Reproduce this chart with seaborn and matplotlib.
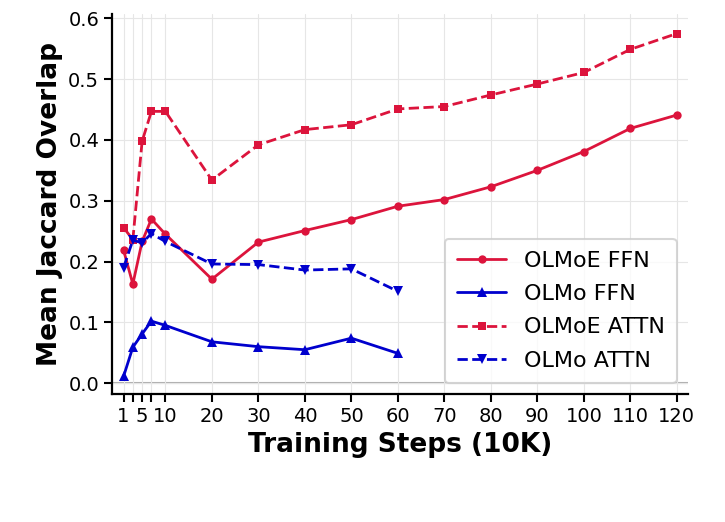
import numpy as np
import pandas as pd
import matplotlib
matplotlib.use("Agg")
import matplotlib.pyplot as plt
import seaborn as sns

# training steps (x 10K)
steps_long = [1, 3, 5, 7, 10, 20, 30, 40, 50, 60, 70, 80, 90, 100, 110, 120]
steps_short = [1, 3, 5, 7, 10, 20, 30, 40, 50, 60]

olmoe_ffn = [0.219, 0.163, 0.233, 0.270, 0.245, 0.171, 0.232, 0.251, 0.269,
             0.291, 0.302, 0.323, 0.350, 0.381, 0.419, 0.441]
olmoe_attn = [0.256, 0.236, 0.398, 0.447, 0.447, 0.334, 0.392, 0.417, 0.425,
              0.451, 0.455, 0.474, 0.492, 0.511, 0.549, 0.575]
olmo_ffn = [0.011, 0.059, 0.081, 0.102, 0.095, 0.068, 0.060, 0.055, 0.074, 0.049]
olmo_attn = [0.190, 0.235, 0.231, 0.246, 0.233, 0.196, 0.195, 0.186, 0.188, 0.151]

xticks = [1, 3, 5, 7, 10, 20, 30, 40, 50, 60, 70, 80, 90, 100, 110, 120]
xticklabels = ["1", "", "5", "", "10", "20", "30", "40", "50", "60",
               "70", "80", "90", "100", "110", "120"]

red = "#DC143C"
blue = "#0000CD"

sns.set_style("ticks")
plt.rcParams["font.family"] = ["DejaVu Sans"]
plt.rcParams["text.color"] = "black"
plt.rcParams["axes.labelcolor"] = "black"
plt.rcParams["xtick.color"] = "black"
plt.rcParams["ytick.color"] = "black"

fig, ax = plt.subplots(figsize=(7.25, 5.22), dpi=100)
fig.subplots_adjust(left=0.155, right=0.949, top=0.973, bottom=0.245)

sns.lineplot(x=steps_long, y=olmoe_ffn, ax=ax, color=red, marker="o", markersize=6,
             markeredgewidth=0, linewidth=2, label="OLMoE FFN")
sns.lineplot(x=steps_short, y=olmo_ffn, ax=ax, color=blue, marker="^", markersize=7,
             markeredgewidth=0, linewidth=2, label="OLMo FFN")
sns.lineplot(x=steps_long, y=olmoe_attn, ax=ax, color=red, marker="s", markersize=6,
             markeredgewidth=0, linewidth=2, linestyle="--", label="OLMoE ATTN")
sns.lineplot(x=steps_short, y=olmo_attn, ax=ax, color=blue, marker="v", markersize=7,
             markeredgewidth=0, linewidth=2, linestyle="--", label="OLMo ATTN")

ax.axhline(0, color="#b0b0b0", linewidth=1.5, zorder=0)
ax.grid(True, color="#e6e6e6", linewidth=0.8)
ax.set_axisbelow(True)

ax.set_xticks(xticks)
ax.set_xticklabels(xticklabels)
ax.set_xlim(-1.4, 122.4)
ax.set_ylim(-0.018, 0.607)
ax.set_yticks([0.0, 0.1, 0.2, 0.3, 0.4, 0.5, 0.6])
ax.tick_params(axis="both", labelsize=14, length=6, width=1.5, color="black")

ax.set_xlabel("Training Steps (10K)", fontsize=19, fontweight="bold")
ax.set_ylabel("Mean Jaccard Overlap", fontsize=19, fontweight="bold")

sns.despine(ax=ax)
for side in ["left", "bottom"]:
    ax.spines[side].set_linewidth(1.6)
    ax.spines[side].set_color("black")

leg = ax.legend(loc="lower right", fontsize=16, frameon=True, fancybox=True,
                handlelength=2.2, borderpad=0.55, labelspacing=0.6,
                borderaxespad=0.5, bbox_to_anchor=(1.0, 0.0))
leg.get_frame().set_edgecolor("#cccccc")
leg.get_frame().set_linewidth(1.5)

fig.savefig("out.png", dpi=100)
